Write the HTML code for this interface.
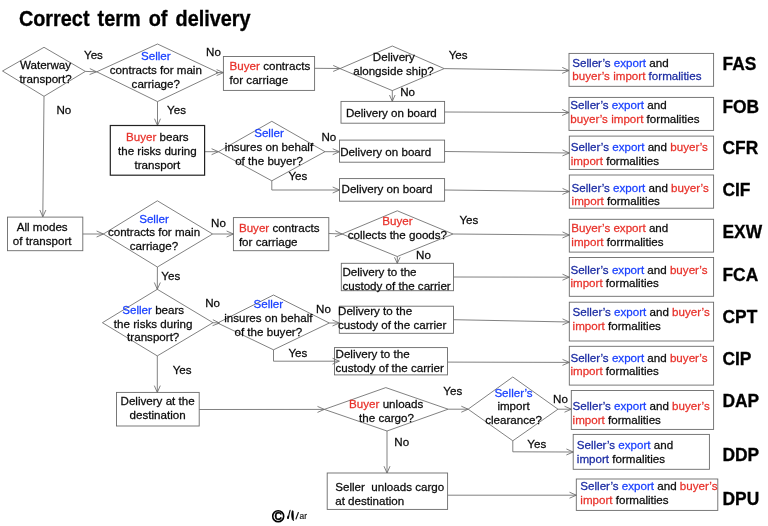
<!DOCTYPE html>
<html><head><meta charset="utf-8"><title>Correct term of delivery</title>
<style>
html,body{margin:0;padding:0;background:#fff;}
body{width:768px;height:526px;overflow:hidden;}
svg{display:block;will-change:transform;opacity:0.999;font-family:"Liberation Sans",sans-serif;}
</style></head><body>
<svg width="768" height="526" viewBox="0 0 768 526">
<rect width="768" height="526" fill="#fff"/>
<polyline points="85.4,71.4 96.5,71.8" fill="none" stroke="#6a6a6a" stroke-width="0.85"/>
<polyline points="89.60,74.55 96.5,71.8 89.81,68.56" fill="none" stroke="#6a6a6a" stroke-width="0.85"/>
<polyline points="216,72.6 223.4,72.6" fill="none" stroke="#6a6a6a" stroke-width="0.85"/>
<polyline points="216.60,75.60 223.4,72.6 216.60,69.60" fill="none" stroke="#6a6a6a" stroke-width="0.85"/>
<polyline points="314.6,68.3 340,68.5" fill="none" stroke="#6a6a6a" stroke-width="0.85"/>
<polyline points="333.18,71.45 340,68.5 333.22,65.45" fill="none" stroke="#6a6a6a" stroke-width="0.85"/>
<polyline points="444.2,68.6 569,70.5" fill="none" stroke="#6a6a6a" stroke-width="0.85"/>
<polyline points="562.16,73.40 569,70.5 562.25,67.40" fill="none" stroke="#6a6a6a" stroke-width="0.85"/>
<polyline points="392.3,90.6 392.3,101.3" fill="none" stroke="#6a6a6a" stroke-width="0.85"/>
<polyline points="389.50,95.00 392.3,101.3 395.10,95.00" fill="none" stroke="#6a6a6a" stroke-width="0.85"/>
<polyline points="444.5,112 569,112.5" fill="none" stroke="#6a6a6a" stroke-width="0.85"/>
<polyline points="562.19,115.47 569,112.5 562.21,109.47" fill="none" stroke="#6a6a6a" stroke-width="0.85"/>
<polyline points="444.5,151.5 569.3,153" fill="none" stroke="#6a6a6a" stroke-width="0.85"/>
<polyline points="562.46,155.92 569.3,153 562.54,149.92" fill="none" stroke="#6a6a6a" stroke-width="0.85"/>
<polyline points="444.5,190 569.3,191.5" fill="none" stroke="#6a6a6a" stroke-width="0.85"/>
<polyline points="562.46,194.42 569.3,191.5 562.54,188.42" fill="none" stroke="#6a6a6a" stroke-width="0.85"/>
<polyline points="157.5,101.6 157.5,125.5" fill="none" stroke="#6a6a6a" stroke-width="0.85"/>
<polyline points="154.50,118.70 157.5,125.5 160.50,118.70" fill="none" stroke="#6a6a6a" stroke-width="0.85"/>
<polyline points="204.6,151.7 218.4,151.7" fill="none" stroke="#6a6a6a" stroke-width="0.85"/>
<polyline points="211.60,154.70 218.4,151.7 211.60,148.70" fill="none" stroke="#6a6a6a" stroke-width="0.85"/>
<polyline points="325,151.7 339.5,151.7" fill="none" stroke="#6a6a6a" stroke-width="0.85"/>
<polyline points="332.70,154.70 339.5,151.7 332.70,148.70" fill="none" stroke="#6a6a6a" stroke-width="0.85"/>
<polyline points="271.8,180.8 271.8,190 339.5,190" fill="none" stroke="#6a6a6a" stroke-width="0.85"/>
<polyline points="332.70,193.00 339.5,190 332.70,187.00" fill="none" stroke="#6a6a6a" stroke-width="0.85"/>
<polyline points="44,96.3 42.8,216.8" fill="none" stroke="#6a6a6a" stroke-width="0.85"/>
<polyline points="39.87,209.97 42.8,216.8 45.87,210.03" fill="none" stroke="#6a6a6a" stroke-width="0.85"/>
<polyline points="82.8,234 103.4,234" fill="none" stroke="#6a6a6a" stroke-width="0.85"/>
<polyline points="96.60,237.00 103.4,234 96.60,231.00" fill="none" stroke="#6a6a6a" stroke-width="0.85"/>
<polyline points="212.6,234 233.4,234" fill="none" stroke="#6a6a6a" stroke-width="0.85"/>
<polyline points="226.60,237.00 233.4,234 226.60,231.00" fill="none" stroke="#6a6a6a" stroke-width="0.85"/>
<polyline points="328.8,233.5 342,234" fill="none" stroke="#6a6a6a" stroke-width="0.85"/>
<polyline points="335.09,236.74 342,234 335.32,230.74" fill="none" stroke="#6a6a6a" stroke-width="0.85"/>
<polyline points="453,234 569.3,235" fill="none" stroke="#6a6a6a" stroke-width="0.85"/>
<polyline points="562.47,237.94 569.3,235 562.53,231.94" fill="none" stroke="#6a6a6a" stroke-width="0.85"/>
<polyline points="397.3,256.5 397.3,263.3" fill="none" stroke="#6a6a6a" stroke-width="0.85"/>
<polyline points="394.50,257.30 397.3,263.3 400.10,257.30" fill="none" stroke="#6a6a6a" stroke-width="0.85"/>
<polyline points="453.5,277 569.3,277.2" fill="none" stroke="#6a6a6a" stroke-width="0.85"/>
<polyline points="562.49,280.19 569.3,277.2 562.51,274.19" fill="none" stroke="#6a6a6a" stroke-width="0.85"/>
<polyline points="157.4,267 157.3,289.3" fill="none" stroke="#6a6a6a" stroke-width="0.85"/>
<polyline points="154.33,282.49 157.3,289.3 160.33,282.51" fill="none" stroke="#6a6a6a" stroke-width="0.85"/>
<polyline points="213,322.7 219.5,323" fill="none" stroke="#6a6a6a" stroke-width="0.85"/>
<polyline points="212.57,325.68 219.5,323 212.85,319.69" fill="none" stroke="#6a6a6a" stroke-width="0.85"/>
<polyline points="329.3,323 339.3,323" fill="none" stroke="#6a6a6a" stroke-width="0.85"/>
<polyline points="332.50,326.00 339.3,323 332.50,320.00" fill="none" stroke="#6a6a6a" stroke-width="0.85"/>
<polyline points="273.5,349.8 273.5,361.2 339.3,361.2" fill="none" stroke="#6a6a6a" stroke-width="0.85"/>
<polyline points="332.50,364.20 339.3,361.2 332.50,358.20" fill="none" stroke="#6a6a6a" stroke-width="0.85"/>
<polyline points="453.5,319.7 569.3,322" fill="none" stroke="#6a6a6a" stroke-width="0.85"/>
<polyline points="562.44,324.86 569.3,322 562.56,318.87" fill="none" stroke="#6a6a6a" stroke-width="0.85"/>
<polyline points="447.5,362.1 569.3,362.4" fill="none" stroke="#6a6a6a" stroke-width="0.85"/>
<polyline points="562.49,365.38 569.3,362.4 562.51,359.38" fill="none" stroke="#6a6a6a" stroke-width="0.85"/>
<polyline points="157.3,355.9 157.3,392.4" fill="none" stroke="#6a6a6a" stroke-width="0.85"/>
<polyline points="154.30,385.60 157.3,392.4 160.30,385.60" fill="none" stroke="#6a6a6a" stroke-width="0.85"/>
<polyline points="199.2,409.5 324.3,409.4" fill="none" stroke="#6a6a6a" stroke-width="0.85"/>
<polyline points="317.50,412.41 324.3,409.4 317.50,406.41" fill="none" stroke="#6a6a6a" stroke-width="0.85"/>
<polyline points="448.1,409.2 468.1,409.2" fill="none" stroke="#6a6a6a" stroke-width="0.85"/>
<polyline points="461.30,412.20 468.1,409.2 461.30,406.20" fill="none" stroke="#6a6a6a" stroke-width="0.85"/>
<polyline points="558,409.2 571.3,409.2" fill="none" stroke="#6a6a6a" stroke-width="0.85"/>
<polyline points="564.50,412.20 571.3,409.2 564.50,406.20" fill="none" stroke="#6a6a6a" stroke-width="0.85"/>
<polyline points="512.8,440.8 512.8,451.8 573.2,452" fill="none" stroke="#6a6a6a" stroke-width="0.85"/>
<polyline points="566.39,454.98 573.2,452 566.41,448.98" fill="none" stroke="#6a6a6a" stroke-width="0.85"/>
<polyline points="387,431 387,473" fill="none" stroke="#6a6a6a" stroke-width="0.85"/>
<polyline points="384.00,466.20 387,473 390.00,466.20" fill="none" stroke="#6a6a6a" stroke-width="0.85"/>
<polyline points="447.6,495.2 576.3,495.2" fill="none" stroke="#6a6a6a" stroke-width="0.85"/>
<polyline points="569.50,498.20 576.3,495.2 569.50,492.20" fill="none" stroke="#6a6a6a" stroke-width="0.85"/>
<polygon points="2.5,71 44,47.3 85.4,71.4 44,96.3" fill="none" stroke="#6a6a6a" stroke-width="0.85"/>
<polygon points="96.7,71.8 157.5,44 218.4,72.6 157.5,101.6" fill="none" stroke="#6a6a6a" stroke-width="0.85"/>
<polygon points="340,68.6 392.3,46 444.2,68.6 392.3,90.6" fill="none" stroke="#6a6a6a" stroke-width="0.85"/>
<polygon points="218.4,151.7 271.8,121.3 325,151.7 271.8,180.8" fill="none" stroke="#6a6a6a" stroke-width="0.85"/>
<polygon points="103.4,234 157.4,200.8 212.6,234 157.4,267" fill="none" stroke="#6a6a6a" stroke-width="0.85"/>
<polygon points="102.4,322.7 157.3,289.3 213,322.7 157.3,355.9" fill="none" stroke="#6a6a6a" stroke-width="0.85"/>
<polygon points="342,234 397.3,210.8 453,234 397.3,256.5" fill="none" stroke="#6a6a6a" stroke-width="0.85"/>
<polygon points="217.6,323 273.5,295 329.3,323 273.5,349.8" fill="none" stroke="#6a6a6a" stroke-width="0.85"/>
<polygon points="324.3,409.4 385.8,387.6 448.1,409.2 387,431" fill="none" stroke="#6a6a6a" stroke-width="0.85"/>
<polygon points="468.1,409.2 512.8,377 558,409.2 512.8,440.8" fill="none" stroke="#6a6a6a" stroke-width="0.85"/>
<rect x="223.4" y="56.5" width="91.2" height="33.9" fill="none" stroke="#6a6a6a" stroke-width="0.9"/>
<rect x="341" y="101.4" width="103.6" height="21.8" fill="none" stroke="#6a6a6a" stroke-width="0.9"/>
<rect x="339.5" y="140.1" width="105.1" height="22.1" fill="none" stroke="#6a6a6a" stroke-width="0.9"/>
<rect x="339.5" y="178.6" width="105.1" height="22.6" fill="none" stroke="#6a6a6a" stroke-width="0.9"/>
<rect x="110.3" y="125.5" width="94.3" height="49.7" fill="none" stroke="#222" stroke-width="1.2"/>
<rect x="7.5" y="217.1" width="75.3" height="33.6" fill="none" stroke="#6a6a6a" stroke-width="0.9"/>
<rect x="233.4" y="217.6" width="95.4" height="33.1" fill="none" stroke="#6a6a6a" stroke-width="0.9"/>
<rect x="341.3" y="263.3" width="112.2" height="27.4" fill="none" stroke="#6a6a6a" stroke-width="0.9"/>
<rect x="339.3" y="306.2" width="114.2" height="27.1" fill="none" stroke="#6a6a6a" stroke-width="0.9"/>
<rect x="334.5" y="347.6" width="113.0" height="27.3" fill="none" stroke="#6a6a6a" stroke-width="0.9"/>
<rect x="116.5" y="392.4" width="82.7" height="33.6" fill="none" stroke="#6a6a6a" stroke-width="0.9"/>
<rect x="327.2" y="473" width="120.4" height="36.4" fill="none" stroke="#6a6a6a" stroke-width="0.9"/>
<rect x="569" y="53.4" width="144.6" height="32.9" fill="none" stroke="#6a6a6a" stroke-width="0.9"/>
<rect x="569" y="97.4" width="144.6" height="33.0" fill="none" stroke="#6a6a6a" stroke-width="0.9"/>
<rect x="569.3" y="136.1" width="144.3" height="33.3" fill="none" stroke="#6a6a6a" stroke-width="0.9"/>
<rect x="569.3" y="175" width="144.3" height="33.2" fill="none" stroke="#6a6a6a" stroke-width="0.9"/>
<rect x="569.3" y="219.3" width="144.3" height="32.8" fill="none" stroke="#6a6a6a" stroke-width="0.9"/>
<rect x="569.3" y="257.5" width="144.3" height="38.8" fill="none" stroke="#6a6a6a" stroke-width="0.9"/>
<rect x="569.3" y="302.2" width="144.3" height="38.8" fill="none" stroke="#6a6a6a" stroke-width="0.9"/>
<rect x="569.3" y="346.3" width="144.3" height="38.8" fill="none" stroke="#6a6a6a" stroke-width="0.9"/>
<rect x="571.3" y="390.5" width="142.3" height="38.9" fill="none" stroke="#6a6a6a" stroke-width="0.9"/>
<rect x="573.2" y="434.4" width="136.2" height="34.9" fill="none" stroke="#6a6a6a" stroke-width="0.9"/>
<rect x="576.3" y="479" width="141.5" height="31.4" fill="none" stroke="#6a6a6a" stroke-width="0.9"/>
<text transform="translate(18.9,25.7) scale(0.895,1)" font-size="22.2" font-weight="bold" fill="#000" stroke="#000" stroke-width="0.35" word-spacing="2.9">Correct term of delivery</text>
<text transform="translate(45.5,68.6) scale(0.993,1)" text-anchor="middle" font-size="11.7" font-weight="normal" stroke-width="0.25" xml:space="preserve"><tspan fill="#0a0a0a" stroke="#0a0a0a">Waterway</tspan></text>
<text transform="translate(45.5,83.1) scale(0.993,1)" text-anchor="middle" font-size="11.7" font-weight="normal" stroke-width="0.25" xml:space="preserve"><tspan fill="#0a0a0a" stroke="#0a0a0a">transport?</tspan></text>
<text transform="translate(155.8,60.3) scale(0.993,1)" text-anchor="middle" font-size="11.7" font-weight="normal" stroke-width="0.25" xml:space="preserve"><tspan fill="#1a40ff" stroke="#1a40ff">Seller</tspan></text>
<text transform="translate(155.8,73.9) scale(0.993,1)" text-anchor="middle" font-size="11.7" font-weight="normal" stroke-width="0.25" xml:space="preserve"><tspan fill="#0a0a0a" stroke="#0a0a0a">contracts for main</tspan></text>
<text transform="translate(155.8,88.3) scale(0.993,1)" text-anchor="middle" font-size="11.7" font-weight="normal" stroke-width="0.25" xml:space="preserve"><tspan fill="#0a0a0a" stroke="#0a0a0a">carriage?</tspan></text>
<text transform="translate(229.6,70.3) scale(0.993,1)" text-anchor="start" font-size="11.7" font-weight="normal" stroke-width="0.25" xml:space="preserve"><tspan fill="#e8312a" stroke="#e8312a">Buyer</tspan><tspan fill="#0a0a0a" stroke="#0a0a0a"> contracts</tspan></text>
<text transform="translate(229.6,83.9) scale(0.993,1)" text-anchor="start" font-size="11.7" font-weight="normal" stroke-width="0.25" xml:space="preserve"><tspan fill="#0a0a0a" stroke="#0a0a0a">for carriage</tspan></text>
<text transform="translate(393.8,60.6) scale(0.993,1)" text-anchor="middle" font-size="11.7" font-weight="normal" stroke-width="0.25" xml:space="preserve"><tspan fill="#0a0a0a" stroke="#0a0a0a">Delivery</tspan></text>
<text transform="translate(393.5,74.6) scale(0.993,1)" text-anchor="middle" font-size="11.7" font-weight="normal" stroke-width="0.25" xml:space="preserve"><tspan fill="#0a0a0a" stroke="#0a0a0a">alongside ship?</tspan></text>
<text transform="translate(345.9,116.6) scale(0.993,1)" text-anchor="start" font-size="11.7" font-weight="normal" stroke-width="0.25" xml:space="preserve"><tspan fill="#0a0a0a" stroke="#0a0a0a">Delivery on board</tspan></text>
<text transform="translate(340.2,156) scale(0.993,1)" text-anchor="start" font-size="11.7" font-weight="normal" stroke-width="0.25" xml:space="preserve"><tspan fill="#0a0a0a" stroke="#0a0a0a">Delivery on board</tspan></text>
<text transform="translate(341.5,193.2) scale(0.993,1)" text-anchor="start" font-size="11.7" font-weight="normal" stroke-width="0.25" xml:space="preserve"><tspan fill="#0a0a0a" stroke="#0a0a0a">Delivery on board</tspan></text>
<text transform="translate(157.3,140.6) scale(0.993,1)" text-anchor="middle" font-size="11.7" font-weight="normal" stroke-width="0.25" xml:space="preserve"><tspan fill="#e8312a" stroke="#e8312a">Buyer</tspan><tspan fill="#0a0a0a" stroke="#0a0a0a"> bears</tspan></text>
<text transform="translate(157.3,154.8) scale(0.993,1)" text-anchor="middle" font-size="11.7" font-weight="normal" stroke-width="0.25" xml:space="preserve"><tspan fill="#0a0a0a" stroke="#0a0a0a">the risks during</tspan></text>
<text transform="translate(157.3,168.9) scale(0.993,1)" text-anchor="middle" font-size="11.7" font-weight="normal" stroke-width="0.25" xml:space="preserve"><tspan fill="#0a0a0a" stroke="#0a0a0a">transport</tspan></text>
<text transform="translate(269,136.9) scale(0.993,1)" text-anchor="middle" font-size="11.7" font-weight="normal" stroke-width="0.25" xml:space="preserve"><tspan fill="#1a40ff" stroke="#1a40ff">Seller</tspan></text>
<text transform="translate(269,151) scale(0.993,1)" text-anchor="middle" font-size="11.7" font-weight="normal" stroke-width="0.25" xml:space="preserve"><tspan fill="#0a0a0a" stroke="#0a0a0a">insures on behalf</tspan></text>
<text transform="translate(269,164.8) scale(0.993,1)" text-anchor="middle" font-size="11.7" font-weight="normal" stroke-width="0.25" xml:space="preserve"><tspan fill="#0a0a0a" stroke="#0a0a0a">of the buyer?</tspan></text>
<text transform="translate(42.2,230.9) scale(0.993,1)" text-anchor="middle" font-size="11.7" font-weight="normal" stroke-width="0.25" xml:space="preserve"><tspan fill="#0a0a0a" stroke="#0a0a0a">All modes</tspan></text>
<text transform="translate(42.2,244.7) scale(0.993,1)" text-anchor="middle" font-size="11.7" font-weight="normal" stroke-width="0.25" xml:space="preserve"><tspan fill="#0a0a0a" stroke="#0a0a0a">of transport</tspan></text>
<text transform="translate(154,222.6) scale(0.993,1)" text-anchor="middle" font-size="11.7" font-weight="normal" stroke-width="0.25" xml:space="preserve"><tspan fill="#1a40ff" stroke="#1a40ff">Seller</tspan></text>
<text transform="translate(154,236.4) scale(0.993,1)" text-anchor="middle" font-size="11.7" font-weight="normal" stroke-width="0.25" xml:space="preserve"><tspan fill="#0a0a0a" stroke="#0a0a0a">contracts for main</tspan></text>
<text transform="translate(154,249.8) scale(0.993,1)" text-anchor="middle" font-size="11.7" font-weight="normal" stroke-width="0.25" xml:space="preserve"><tspan fill="#0a0a0a" stroke="#0a0a0a">carriage?</tspan></text>
<text transform="translate(238.9,232.1) scale(0.993,1)" text-anchor="start" font-size="11.7" font-weight="normal" stroke-width="0.25" xml:space="preserve"><tspan fill="#e8312a" stroke="#e8312a">Buyer</tspan><tspan fill="#0a0a0a" stroke="#0a0a0a"> contracts</tspan></text>
<text transform="translate(238.9,245.9) scale(0.993,1)" text-anchor="start" font-size="11.7" font-weight="normal" stroke-width="0.25" xml:space="preserve"><tspan fill="#0a0a0a" stroke="#0a0a0a">for carriage</tspan></text>
<text transform="translate(397.5,224.6) scale(0.993,1)" text-anchor="middle" font-size="11.7" font-weight="normal" stroke-width="0.25" xml:space="preserve"><tspan fill="#e8312a" stroke="#e8312a">Buyer</tspan></text>
<text transform="translate(397.4,239) scale(0.993,1)" text-anchor="middle" font-size="11.7" font-weight="normal" stroke-width="0.25" xml:space="preserve"><tspan fill="#0a0a0a" stroke="#0a0a0a">collects the goods?</tspan></text>
<text transform="translate(342.4,275.8) scale(0.993,1)" text-anchor="start" font-size="11.7" font-weight="normal" stroke-width="0.25" xml:space="preserve"><tspan fill="#0a0a0a" stroke="#0a0a0a">Delivery to the</tspan></text>
<text transform="translate(342.4,289.6) scale(0.993,1)" text-anchor="start" font-size="11.7" font-weight="normal" stroke-width="0.25" xml:space="preserve"><tspan fill="#0a0a0a" stroke="#0a0a0a">custody of the carrier</tspan></text>
<text transform="translate(338,315.1) scale(0.993,1)" text-anchor="start" font-size="11.7" font-weight="normal" stroke-width="0.25" xml:space="preserve"><tspan fill="#0a0a0a" stroke="#0a0a0a">Delivery to the</tspan></text>
<text transform="translate(338,329) scale(0.993,1)" text-anchor="start" font-size="11.7" font-weight="normal" stroke-width="0.25" xml:space="preserve"><tspan fill="#0a0a0a" stroke="#0a0a0a">custody of the carrier</tspan></text>
<text transform="translate(335.5,358.3) scale(0.993,1)" text-anchor="start" font-size="11.7" font-weight="normal" stroke-width="0.25" xml:space="preserve"><tspan fill="#0a0a0a" stroke="#0a0a0a">Delivery to the</tspan></text>
<text transform="translate(335.5,372.1) scale(0.993,1)" text-anchor="start" font-size="11.7" font-weight="normal" stroke-width="0.25" xml:space="preserve"><tspan fill="#0a0a0a" stroke="#0a0a0a">custody of the carrier</tspan></text>
<text transform="translate(153.2,313.9) scale(0.993,1)" text-anchor="middle" font-size="11.7" font-weight="normal" stroke-width="0.25" xml:space="preserve"><tspan fill="#1a40ff" stroke="#1a40ff">Seller</tspan><tspan fill="#0a0a0a" stroke="#0a0a0a"> bears</tspan></text>
<text transform="translate(153.2,327.7) scale(0.993,1)" text-anchor="middle" font-size="11.7" font-weight="normal" stroke-width="0.25" xml:space="preserve"><tspan fill="#0a0a0a" stroke="#0a0a0a">the risks during</tspan></text>
<text transform="translate(153.2,341) scale(0.993,1)" text-anchor="middle" font-size="11.7" font-weight="normal" stroke-width="0.25" xml:space="preserve"><tspan fill="#0a0a0a" stroke="#0a0a0a">transport?</tspan></text>
<text transform="translate(268.3,307.6) scale(0.993,1)" text-anchor="middle" font-size="11.7" font-weight="normal" stroke-width="0.25" xml:space="preserve"><tspan fill="#1a40ff" stroke="#1a40ff">Seller</tspan></text>
<text transform="translate(268.3,321.9) scale(0.993,1)" text-anchor="middle" font-size="11.7" font-weight="normal" stroke-width="0.25" xml:space="preserve"><tspan fill="#0a0a0a" stroke="#0a0a0a">insures on behalf</tspan></text>
<text transform="translate(268.3,335.7) scale(0.993,1)" text-anchor="middle" font-size="11.7" font-weight="normal" stroke-width="0.25" xml:space="preserve"><tspan fill="#0a0a0a" stroke="#0a0a0a">of the buyer?</tspan></text>
<text transform="translate(157.6,404.8) scale(0.993,1)" text-anchor="middle" font-size="11.7" font-weight="normal" stroke-width="0.25" xml:space="preserve"><tspan fill="#0a0a0a" stroke="#0a0a0a">Delivery at the</tspan></text>
<text transform="translate(157.6,418.6) scale(0.993,1)" text-anchor="middle" font-size="11.7" font-weight="normal" stroke-width="0.25" xml:space="preserve"><tspan fill="#0a0a0a" stroke="#0a0a0a">destination</tspan></text>
<text transform="translate(386.2,407.7) scale(0.993,1)" text-anchor="middle" font-size="11.7" font-weight="normal" stroke-width="0.25" xml:space="preserve"><tspan fill="#e8312a" stroke="#e8312a">Buyer</tspan><tspan fill="#0a0a0a" stroke="#0a0a0a"> unloads</tspan></text>
<text transform="translate(386.5,421.5) scale(0.993,1)" text-anchor="middle" font-size="11.7" font-weight="normal" stroke-width="0.25" xml:space="preserve"><tspan fill="#0a0a0a" stroke="#0a0a0a">the cargo?</tspan></text>
<text transform="translate(513.5,396.5) scale(0.993,1)" text-anchor="middle" font-size="11.7" font-weight="normal" stroke-width="0.25" xml:space="preserve"><tspan fill="#1a40ff" stroke="#1a40ff">Seller’s</tspan></text>
<text transform="translate(513.5,410.1) scale(0.993,1)" text-anchor="middle" font-size="11.7" font-weight="normal" stroke-width="0.25" xml:space="preserve"><tspan fill="#0a0a0a" stroke="#0a0a0a">import</tspan></text>
<text transform="translate(513.5,423.9) scale(0.993,1)" text-anchor="middle" font-size="11.7" font-weight="normal" stroke-width="0.25" xml:space="preserve"><tspan fill="#0a0a0a" stroke="#0a0a0a">clearance?</tspan></text>
<text transform="translate(335.2,491) scale(0.993,1)" text-anchor="start" font-size="11.7" font-weight="normal" stroke-width="0.25" xml:space="preserve"><tspan fill="#0a0a0a" stroke="#0a0a0a">Seller  unloads cargo</tspan></text>
<text transform="translate(335.2,504.7) scale(0.993,1)" text-anchor="start" font-size="11.7" font-weight="normal" stroke-width="0.25" xml:space="preserve"><tspan fill="#0a0a0a" stroke="#0a0a0a">at destination</tspan></text>
<text transform="translate(84.0,58.6) scale(0.993,1)" text-anchor="start" font-size="11.7" font-weight="normal" stroke-width="0.25" xml:space="preserve"><tspan fill="#0a0a0a" stroke="#0a0a0a">Yes</tspan></text>
<text transform="translate(206.0,55.7) scale(0.993,1)" text-anchor="start" font-size="11.7" font-weight="normal" stroke-width="0.25" xml:space="preserve"><tspan fill="#0a0a0a" stroke="#0a0a0a">No</tspan></text>
<text transform="translate(167.1,113.8) scale(0.993,1)" text-anchor="start" font-size="11.7" font-weight="normal" stroke-width="0.25" xml:space="preserve"><tspan fill="#0a0a0a" stroke="#0a0a0a">Yes</tspan></text>
<text transform="translate(56.4,113.8) scale(0.993,1)" text-anchor="start" font-size="11.7" font-weight="normal" stroke-width="0.25" xml:space="preserve"><tspan fill="#0a0a0a" stroke="#0a0a0a">No</tspan></text>
<text transform="translate(448.7,59.0) scale(0.993,1)" text-anchor="start" font-size="11.7" font-weight="normal" stroke-width="0.25" xml:space="preserve"><tspan fill="#0a0a0a" stroke="#0a0a0a">Yes</tspan></text>
<text transform="translate(400.2,95.8) scale(0.993,1)" text-anchor="start" font-size="11.7" font-weight="normal" stroke-width="0.25" xml:space="preserve"><tspan fill="#0a0a0a" stroke="#0a0a0a">No</tspan></text>
<text transform="translate(321.4,141.4) scale(0.993,1)" text-anchor="start" font-size="11.7" font-weight="normal" stroke-width="0.25" xml:space="preserve"><tspan fill="#0a0a0a" stroke="#0a0a0a">No</tspan></text>
<text transform="translate(288.4,180.3) scale(0.993,1)" text-anchor="start" font-size="11.7" font-weight="normal" stroke-width="0.25" xml:space="preserve"><tspan fill="#0a0a0a" stroke="#0a0a0a">Yes</tspan></text>
<text transform="translate(211.0,226.9) scale(0.993,1)" text-anchor="start" font-size="11.7" font-weight="normal" stroke-width="0.25" xml:space="preserve"><tspan fill="#0a0a0a" stroke="#0a0a0a">No</tspan></text>
<text transform="translate(459.4,223.8) scale(0.993,1)" text-anchor="start" font-size="11.7" font-weight="normal" stroke-width="0.25" xml:space="preserve"><tspan fill="#0a0a0a" stroke="#0a0a0a">Yes</tspan></text>
<text transform="translate(416.0,258.7) scale(0.993,1)" text-anchor="start" font-size="11.7" font-weight="normal" stroke-width="0.25" xml:space="preserve"><tspan fill="#0a0a0a" stroke="#0a0a0a">No</tspan></text>
<text transform="translate(161.3,279.9) scale(0.993,1)" text-anchor="start" font-size="11.7" font-weight="normal" stroke-width="0.25" xml:space="preserve"><tspan fill="#0a0a0a" stroke="#0a0a0a">Yes</tspan></text>
<text transform="translate(205.20000000000002,307) scale(0.993,1)" text-anchor="start" font-size="11.7" font-weight="normal" stroke-width="0.25" xml:space="preserve"><tspan fill="#0a0a0a" stroke="#0a0a0a">No</tspan></text>
<text transform="translate(316.09999999999997,312.8) scale(0.993,1)" text-anchor="start" font-size="11.7" font-weight="normal" stroke-width="0.25" xml:space="preserve"><tspan fill="#0a0a0a" stroke="#0a0a0a">No</tspan></text>
<text transform="translate(288.4,356.6) scale(0.993,1)" text-anchor="start" font-size="11.7" font-weight="normal" stroke-width="0.25" xml:space="preserve"><tspan fill="#0a0a0a" stroke="#0a0a0a">Yes</tspan></text>
<text transform="translate(172.70000000000002,373.6) scale(0.993,1)" text-anchor="start" font-size="11.7" font-weight="normal" stroke-width="0.25" xml:space="preserve"><tspan fill="#0a0a0a" stroke="#0a0a0a">Yes</tspan></text>
<text transform="translate(443.29999999999995,395) scale(0.993,1)" text-anchor="start" font-size="11.7" font-weight="normal" stroke-width="0.25" xml:space="preserve"><tspan fill="#0a0a0a" stroke="#0a0a0a">Yes</tspan></text>
<text transform="translate(394.29999999999995,445.8) scale(0.993,1)" text-anchor="start" font-size="11.7" font-weight="normal" stroke-width="0.25" xml:space="preserve"><tspan fill="#0a0a0a" stroke="#0a0a0a">No</tspan></text>
<text transform="translate(553.1,402.6) scale(0.993,1)" text-anchor="start" font-size="11.7" font-weight="normal" stroke-width="0.25" xml:space="preserve"><tspan fill="#0a0a0a" stroke="#0a0a0a">No</tspan></text>
<text transform="translate(527.3,447.8) scale(0.993,1)" text-anchor="start" font-size="11.7" font-weight="normal" stroke-width="0.25" xml:space="preserve"><tspan fill="#0a0a0a" stroke="#0a0a0a">Yes</tspan></text>
<text transform="translate(572.3,66.5) scale(0.993,1)" text-anchor="start" font-size="11.7" font-weight="normal" stroke-width="0.25" xml:space="preserve"><tspan fill="#1a2aa2" stroke="#1a2aa2">Seller’s</tspan><tspan fill="#1a40ff" stroke="#1a40ff"> export</tspan><tspan fill="#0a0a0a" stroke="#0a0a0a"> and</tspan></text>
<text transform="translate(572.3,80.1) scale(0.993,1)" text-anchor="start" font-size="11.7" font-weight="normal" stroke-width="0.25" xml:space="preserve"><tspan fill="#e8312a" stroke="#e8312a">buyer’s import</tspan><tspan fill="#1a2aa2" stroke="#1a2aa2"> formalities</tspan></text>
<text transform="translate(570.3,109.3) scale(0.993,1)" text-anchor="start" font-size="11.7" font-weight="normal" stroke-width="0.25" xml:space="preserve"><tspan fill="#1a2aa2" stroke="#1a2aa2">Seller’s</tspan><tspan fill="#1a40ff" stroke="#1a40ff"> export</tspan><tspan fill="#0a0a0a" stroke="#0a0a0a"> and</tspan></text>
<text transform="translate(570.3,123) scale(0.993,1)" text-anchor="start" font-size="11.7" font-weight="normal" stroke-width="0.25" xml:space="preserve"><tspan fill="#e8312a" stroke="#e8312a">buyer’s import</tspan><tspan fill="#0a0a0a" stroke="#0a0a0a"> formalities</tspan></text>
<text transform="translate(570.7,151.1) scale(0.993,1)" text-anchor="start" font-size="11.7" font-weight="normal" stroke-width="0.25" xml:space="preserve"><tspan fill="#1a2aa2" stroke="#1a2aa2">Seller’s</tspan><tspan fill="#1a40ff" stroke="#1a40ff"> export</tspan><tspan fill="#0a0a0a" stroke="#0a0a0a"> and</tspan><tspan fill="#e8312a" stroke="#e8312a"> buyer’s</tspan></text>
<text transform="translate(570.7,164.8) scale(0.993,1)" text-anchor="start" font-size="11.7" font-weight="normal" stroke-width="0.25" xml:space="preserve"><tspan fill="#e8312a" stroke="#e8312a">import</tspan><tspan fill="#0a0a0a" stroke="#0a0a0a"> formalities</tspan></text>
<text transform="translate(571.6,191.6) scale(0.993,1)" text-anchor="start" font-size="11.7" font-weight="normal" stroke-width="0.25" xml:space="preserve"><tspan fill="#1a2aa2" stroke="#1a2aa2">Seller’s</tspan><tspan fill="#1a40ff" stroke="#1a40ff"> export</tspan><tspan fill="#0a0a0a" stroke="#0a0a0a"> and</tspan><tspan fill="#e8312a" stroke="#e8312a"> buyer’s</tspan></text>
<text transform="translate(571.6,205.4) scale(0.993,1)" text-anchor="start" font-size="11.7" font-weight="normal" stroke-width="0.25" xml:space="preserve"><tspan fill="#e8312a" stroke="#e8312a">import</tspan><tspan fill="#0a0a0a" stroke="#0a0a0a"> formalities</tspan></text>
<text transform="translate(571.3,232.2) scale(0.993,1)" text-anchor="start" font-size="11.7" font-weight="normal" stroke-width="0.25" xml:space="preserve"><tspan fill="#e8312a" stroke="#e8312a">Buyer’s export</tspan><tspan fill="#0a0a0a" stroke="#0a0a0a"> and</tspan></text>
<text transform="translate(571.3,246) scale(0.993,1)" text-anchor="start" font-size="11.7" font-weight="normal" stroke-width="0.25" xml:space="preserve"><tspan fill="#e8312a" stroke="#e8312a">import</tspan><tspan fill="#0a0a0a" stroke="#0a0a0a"> forrmalities</tspan></text>
<text transform="translate(570.4,273.6) scale(0.993,1)" text-anchor="start" font-size="11.7" font-weight="normal" stroke-width="0.25" xml:space="preserve"><tspan fill="#1a2aa2" stroke="#1a2aa2">Seller’s</tspan><tspan fill="#1a40ff" stroke="#1a40ff"> export</tspan><tspan fill="#0a0a0a" stroke="#0a0a0a"> and</tspan><tspan fill="#e8312a" stroke="#e8312a"> buyer’s</tspan></text>
<text transform="translate(570.4,287.4) scale(0.993,1)" text-anchor="start" font-size="11.7" font-weight="normal" stroke-width="0.25" xml:space="preserve"><tspan fill="#e8312a" stroke="#e8312a">import</tspan><tspan fill="#0a0a0a" stroke="#0a0a0a"> formalities</tspan></text>
<text transform="translate(572.6,316.4) scale(0.993,1)" text-anchor="start" font-size="11.7" font-weight="normal" stroke-width="0.25" xml:space="preserve"><tspan fill="#1a2aa2" stroke="#1a2aa2">Seller’s</tspan><tspan fill="#1a40ff" stroke="#1a40ff"> export</tspan><tspan fill="#0a0a0a" stroke="#0a0a0a"> and</tspan><tspan fill="#e8312a" stroke="#e8312a"> buyer’s</tspan></text>
<text transform="translate(572.6,330) scale(0.993,1)" text-anchor="start" font-size="11.7" font-weight="normal" stroke-width="0.25" xml:space="preserve"><tspan fill="#e8312a" stroke="#e8312a">import</tspan><tspan fill="#0a0a0a" stroke="#0a0a0a"> formalities</tspan></text>
<text transform="translate(570.4,361.5) scale(0.993,1)" text-anchor="start" font-size="11.7" font-weight="normal" stroke-width="0.25" xml:space="preserve"><tspan fill="#1a2aa2" stroke="#1a2aa2">Seller’s</tspan><tspan fill="#1a40ff" stroke="#1a40ff"> export</tspan><tspan fill="#0a0a0a" stroke="#0a0a0a"> and</tspan><tspan fill="#e8312a" stroke="#e8312a"> buyer’s</tspan></text>
<text transform="translate(570.4,375.3) scale(0.993,1)" text-anchor="start" font-size="11.7" font-weight="normal" stroke-width="0.25" xml:space="preserve"><tspan fill="#e8312a" stroke="#e8312a">import</tspan><tspan fill="#0a0a0a" stroke="#0a0a0a"> formalities</tspan></text>
<text transform="translate(572.6,409.8) scale(0.993,1)" text-anchor="start" font-size="11.7" font-weight="normal" stroke-width="0.25" xml:space="preserve"><tspan fill="#1a2aa2" stroke="#1a2aa2">Seller’s</tspan><tspan fill="#1a40ff" stroke="#1a40ff"> export</tspan><tspan fill="#0a0a0a" stroke="#0a0a0a"> and</tspan><tspan fill="#e8312a" stroke="#e8312a"> buyer’s</tspan></text>
<text transform="translate(572.6,423.6) scale(0.993,1)" text-anchor="start" font-size="11.7" font-weight="normal" stroke-width="0.25" xml:space="preserve"><tspan fill="#e8312a" stroke="#e8312a">import</tspan><tspan fill="#0a0a0a" stroke="#0a0a0a"> formalities</tspan></text>
<text transform="translate(576.8,449.3) scale(0.993,1)" text-anchor="start" font-size="11.7" font-weight="normal" stroke-width="0.25" xml:space="preserve"><tspan fill="#1a2aa2" stroke="#1a2aa2">Seller’s</tspan><tspan fill="#1a40ff" stroke="#1a40ff"> export</tspan><tspan fill="#0a0a0a" stroke="#0a0a0a"> and</tspan></text>
<text transform="translate(576.8,463.1) scale(0.993,1)" text-anchor="start" font-size="11.7" font-weight="normal" stroke-width="0.25" xml:space="preserve"><tspan fill="#1a2aa2" stroke="#1a2aa2">import</tspan><tspan fill="#0a0a0a" stroke="#0a0a0a"> formalities</tspan></text>
<text transform="translate(580.3,490.4) scale(0.993,1)" text-anchor="start" font-size="11.7" font-weight="normal" stroke-width="0.25" xml:space="preserve"><tspan fill="#1a2aa2" stroke="#1a2aa2">Seller’s</tspan><tspan fill="#1a40ff" stroke="#1a40ff"> export</tspan><tspan fill="#0a0a0a" stroke="#0a0a0a"> and</tspan><tspan fill="#e8312a" stroke="#e8312a"> buyer’s</tspan></text>
<text transform="translate(580.3,504.1) scale(0.993,1)" text-anchor="start" font-size="11.7" font-weight="normal" stroke-width="0.25" xml:space="preserve"><tspan fill="#e8312a" stroke="#e8312a">import</tspan><tspan fill="#0a0a0a" stroke="#0a0a0a"> formalities</tspan></text>
<text transform="translate(722.5,69.9) scale(0.955,1)" font-size="18.2" font-weight="bold" fill="#000" stroke="#000" stroke-width="0.3">FAS</text>
<text transform="translate(722.5,112.5) scale(0.955,1)" font-size="18.2" font-weight="bold" fill="#000" stroke="#000" stroke-width="0.3">FOB</text>
<text transform="translate(722.5,154.3) scale(0.955,1)" font-size="18.2" font-weight="bold" fill="#000" stroke="#000" stroke-width="0.3">CFR</text>
<text transform="translate(722.5,196.3) scale(0.955,1)" font-size="18.2" font-weight="bold" fill="#000" stroke="#000" stroke-width="0.3">CIF</text>
<text transform="translate(722.5,237.9) scale(0.955,1)" font-size="18.2" font-weight="bold" fill="#000" stroke="#000" stroke-width="0.3">EXW</text>
<text transform="translate(722.5,280.5) scale(0.955,1)" font-size="18.2" font-weight="bold" fill="#000" stroke="#000" stroke-width="0.3">FCA</text>
<text transform="translate(722.5,323.2) scale(0.955,1)" font-size="18.2" font-weight="bold" fill="#000" stroke="#000" stroke-width="0.3">CPT</text>
<text transform="translate(722.5,364.8) scale(0.955,1)" font-size="18.2" font-weight="bold" fill="#000" stroke="#000" stroke-width="0.3">CIP</text>
<text transform="translate(722.5,407.4) scale(0.955,1)" font-size="18.2" font-weight="bold" fill="#000" stroke="#000" stroke-width="0.3">DAP</text>
<text transform="translate(722.5,461.0) scale(0.955,1)" font-size="18.2" font-weight="bold" fill="#000" stroke="#000" stroke-width="0.3">DDP</text>
<text transform="translate(722.5,504.5) scale(0.955,1)" font-size="18.2" font-weight="bold" fill="#000" stroke="#000" stroke-width="0.3">DPU</text>
<circle cx="278.2" cy="516.3" r="5.5" fill="none" stroke="#000" stroke-width="1.6"/>
<text x="278.25" y="520.0" text-anchor="middle" font-size="10.4" font-weight="bold" fill="#000" stroke="#000" stroke-width="0.3">C</text>
<path d="M290.1,510.3 L289.2,513.6 L288.2,518.4" fill="none" stroke="#000" stroke-width="1.1" stroke-linecap="round"/>
<ellipse cx="288.1" cy="517.3" rx="1.0" ry="1.7" fill="#000" transform="rotate(15 288.1 517.3)"/>
<path d="M292.4,510.6 C291.2,512.5 291.3,517 292.3,519.6 L293.6,520.9 C293.6,518.5 293.4,513.5 293.2,510.9 Z" fill="#000" stroke="#000" stroke-width="0.5" stroke-linejoin="round"/>
<path d="M298.5,512.1 L295.8,519.4" fill="none" stroke="#111" stroke-width="1.2"/>
<text x="299.5" y="518.8" font-size="8.4" fill="#222" stroke="#222" stroke-width="0.2">ar</text>
</svg>
</body></html>
